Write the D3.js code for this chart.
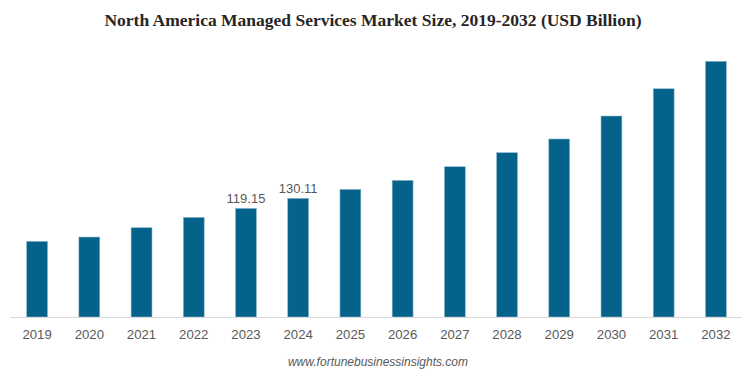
<!DOCTYPE html>
<html><head><meta charset="utf-8">
<script src="https://cdn.jsdelivr.net/npm/d3@7"></script>
<style>html,body{margin:0;padding:0;background:#fff;}</style>
</head><body>
<svg id="c" width="748" height="374"></svg>
<script>
const years = ["2019","2020","2021","2022","2023","2024","2025","2026","2027","2028","2029","2030","2031","2032"];
const values = [83.0, 87.7, 97.9, 109.3, 119.15, 130.11, 140.0, 149.9, 164.8, 180.2, 195.2, 220.4, 250.3, 280.4];
const labelled = ["2023","2024"];
const title = "North America Managed Services Market Size, 2019-2032 (USD Billion)";
const source = "www.fortunebusinessinsights.com";

const svg = d3.select("#c");
const baseY = 317;
const x = d3.scaleBand().domain(years).range([11, 742]).paddingInner(0.6).paddingOuter(0.3);
const y = d3.scaleLinear().domain([0, 280.4]).range([baseY, 61.3]);

svg.append("text").attr("x", 373).attr("y", 26).attr("text-anchor", "middle")
  .attr("font-family", "'Liberation Serif', 'Times New Roman', serif").attr("font-weight", "bold")
  .attr("font-size", 17.5).attr("fill", "#262626").text(title);

svg.append("g").selectAll("rect").data(years).join("rect")
  .attr("x", d => x(d)).attr("width", x.bandwidth())
  .attr("y", (d, i) => y(values[i])).attr("height", (d, i) => baseY - y(values[i]))
  .attr("fill", "#05628a").attr("stroke", "#8fb9cc").attr("stroke-width", 0.6);

const axis = svg.append("g").attr("transform", `translate(0,${baseY})`)
  .call(d3.axisBottom(x).tickSize(0).tickPadding(13));
axis.select(".domain").attr("stroke", "#d9d9d9").attr("d", "M10,0.5H742");
axis.selectAll("text").attr("font-family", "'Liberation Sans', Arial, sans-serif")
  .attr("font-size", 13.2).attr("fill", "#595959");

svg.append("g").selectAll("text").data(years.filter(d => labelled.includes(d))).join("text")
  .attr("x", d => x(d) + x.bandwidth() / 2)
  .attr("y", d => y(values[years.indexOf(d)]) - 5)
  .attr("text-anchor", "middle").attr("font-family", "'Liberation Sans', Arial, sans-serif")
  .attr("font-size", 13).attr("fill", "#595959").text(d => values[years.indexOf(d)].toFixed(2));

svg.append("text").attr("x", 378).attr("y", 366).attr("text-anchor", "middle")
  .attr("font-family", "'Liberation Sans', Arial, sans-serif").attr("font-style", "italic")
  .attr("font-size", 12).attr("fill", "#595959").text(source);
</script>
</body></html>
